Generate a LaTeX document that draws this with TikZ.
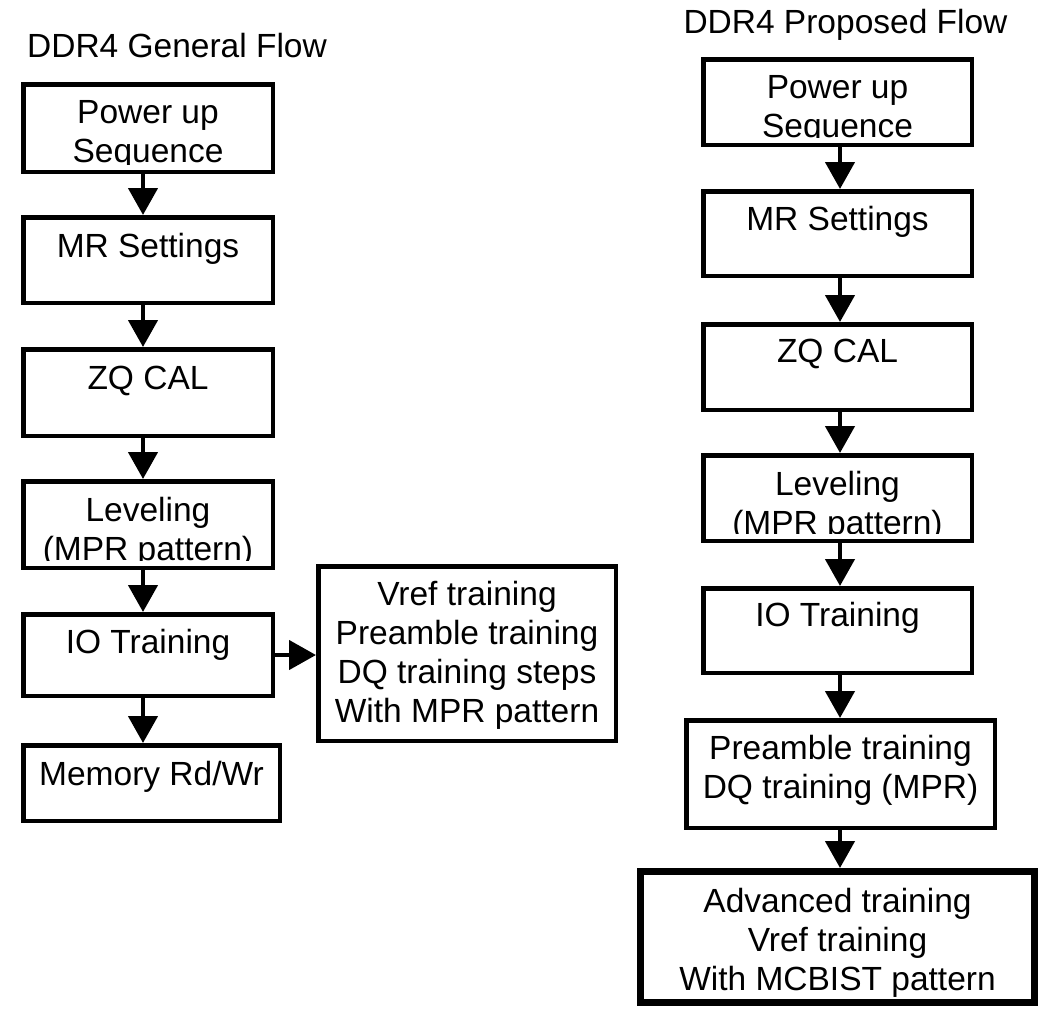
\documentclass[tikz,border=0pt]{standalone}
\usepackage{fontspec}
\setmainfont{Liberation Sans}
\usetikzlibrary{arrows.meta,calc}
\tikzset{
  flowbox/.style={draw=black, line width=4.5pt, rectangle, inner sep=0pt},
  bigbox/.style={draw=black, line width=7pt, rectangle, inner sep=0pt},
  txt/.style={font=\fontsize{33.5}{39}\selectfont, align=center, inner sep=0pt},
  arr/.style={line width=4.5pt, -{Triangle[width=29pt,length=27pt]}},
}
% #1 box name, #2 text node name, #3 offset of text top below box top, #4 text
\newcommand\flowtext[4]{%
  \begin{scope}
    \clip ($(#1.north west)$) rectangle ($(#1.south east)+(0,-10)$);
    \node[txt, anchor=north] (#2) at ($(#1.north)+(0,#3)$) {\rule{0pt}{25pt}#4};
  \end{scope}}
\begin{document}
\begin{tikzpicture}[x=1pt,y=-1pt]
  \fill[white] (0,0) rectangle (1059,1018);
  \useasboundingbox (0,0) rectangle (1059,1018);

  % titles
  \node[txt, anchor=base] (tl) at (177,57) {DDR4 General Flow};
  \node[txt, anchor=base] (tr) at (845.5,33) {DDR4 Proposed Flow};

  % left column boxes
  \node[flowbox, minimum width=249.5pt, minimum height=87.5pt] (L1) at (148,128) {};
  \node[flowbox, minimum width=249.5pt, minimum height=85.5pt] (L2) at (148,260) {};
  \node[flowbox, minimum width=249.5pt, minimum height=86.5pt] (L3) at (148,392.5) {};
  \node[flowbox, minimum width=249.5pt, minimum height=86.5pt] (L4) at (148,524.5) {};
  \node[flowbox, minimum width=249.5pt, minimum height=81.5pt] (L5) at (148,655) {};
  \node[flowbox, minimum width=256.5pt, minimum height=75.5pt] (L6) at (151.5,783) {};
  \node[flowbox, minimum width=297.5pt, minimum height=174.5pt] (S) at (467,653.5) {};

  \flowtext{L1}{L1t}{16}{Power up\\Sequence}
  \flowtext{L2}{L2t}{17}{MR Settings}
  \flowtext{L3}{L3t}{17}{ZQ CAL}
  \flowtext{L4}{L4t}{17}{Leveling\\(MPR pattern)}
  \flowtext{L5}{L5t}{16}{IO Training}
  \flowtext{L6}{L6t}{17}{Memory Rd/Wr}
  \flowtext{S}{St}{16}{Vref training\\Preamble training\\DQ training steps\\With MPR pattern}

  % right column boxes
  \node[flowbox, minimum width=268.5pt, minimum height=85.5pt] (R1) at (837.5,102) {};
  \node[flowbox, minimum width=268.5pt, minimum height=84.5pt] (R2) at (837.5,233.5) {};
  \node[flowbox, minimum width=268.5pt, minimum height=85.5pt] (R3) at (837.5,367) {};
  \node[flowbox, minimum width=268.5pt, minimum height=85.5pt] (R4) at (837.5,498) {};
  \node[flowbox, minimum width=268.5pt, minimum height=84.5pt] (R5) at (837.5,630.5) {};
  \node[flowbox, minimum width=308.5pt, minimum height=107.5pt] (R6) at (840.5,774) {};
  \node[bigbox, minimum width=394pt, minimum height=131pt] (R7) at (837.5,937) {};

  \flowtext{R1}{R1t}{16}{Power up\\Sequence}
  \flowtext{R2}{R2t}{16}{MR Settings}
  \flowtext{R3}{R3t}{15}{ZQ CAL}
  \flowtext{R4}{R4t}{17}{Leveling\\(MPR pattern)}
  \flowtext{R5}{R5t}{15}{IO Training}
  \flowtext{R6}{R6t}{16}{Preamble training\\DQ training (MPR)}
  \flowtext{R7}{R7t}{19}{Advanced training\\Vref training\\With MCBIST pattern}

  % connectors
  \coordinate (lx) at (143,0);
  \coordinate (rx) at (840,0);
  \draw[arr] (L1.south -| lx) -- (L2.north -| lx);
  \draw[arr] (L2.south -| lx) -- (L3.north -| lx);
  \draw[arr] (L3.south -| lx) -- (L4.north -| lx);
  \draw[arr] (L4.south -| lx) -- (L5.north -| lx);
  \draw[arr] (L5.south -| lx) -- (L6.north -| lx);
  \draw[arr] (L5.east) -- (L5.east -| S.west);

  \draw[arr] (R1.south -| rx) -- (R2.north -| rx);
  \draw[arr] (R2.south -| rx) -- (R3.north -| rx);
  \draw[arr] (R3.south -| rx) -- (R4.north -| rx);
  \draw[arr] (R4.south -| rx) -- (R5.north -| rx);
  \draw[arr] (R5.south -| rx) -- (R6.north -| rx);
  \draw[arr] (R6.south -| rx) -- (R7.north -| rx);
\end{tikzpicture}
\end{document}
